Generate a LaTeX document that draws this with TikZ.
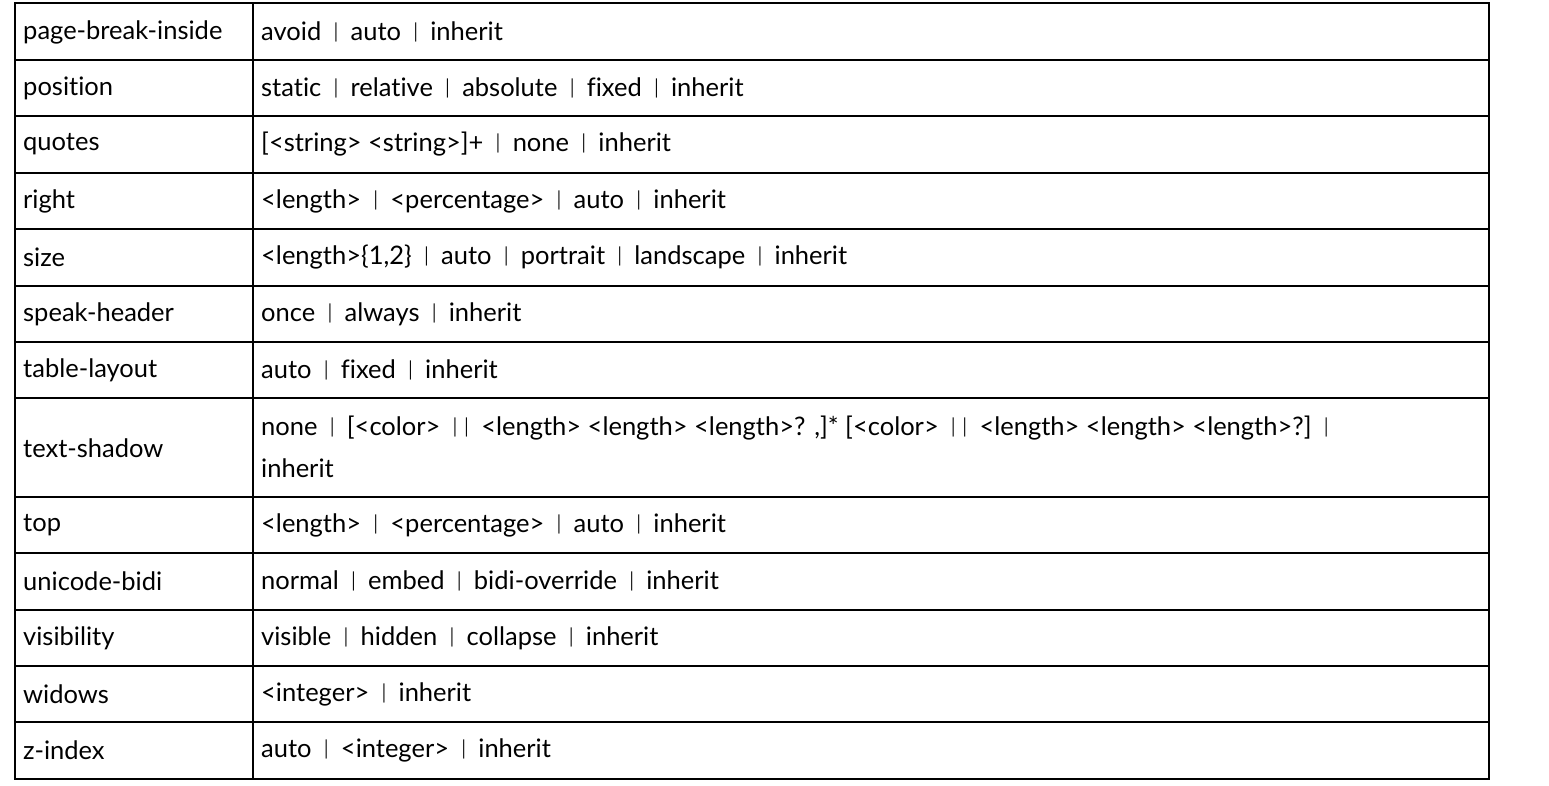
\documentclass[tikz,border=0pt]{standalone}
\usepackage{fontspec}
\setmainfont[Ligatures=NoCommon]{Lato}
\begin{document}
\begin{tikzpicture}[x=1pt,y=-1pt,
  cell/.style={anchor=west,inner sep=0pt,font=\fontsize{25.5}{30}\selectfont},
  grid/.style={line width=2.5pt}]
\useasboundingbox (0,0) rectangle (1549,786);
\def\bar{\enspace\raisebox{0.15ex}{\scalebox{0.6}[0.8]{\textbar}}\enspace}
\def\dbar{\enspace\raisebox{0.15ex}{\scalebox{0.6}[0.8]{\textbar}}\hspace{0.3em}\raisebox{0.15ex}{\scalebox{0.6}[0.8]{\textbar}}\enspace}
\foreach \y in {60,116,173,229,286,342,398,497,553,610,666,722}
  \draw[line width=2pt] (15,\y) -- (1489,\y);
\draw[grid] (15,3) rectangle (1489,779);
\draw[grid] (253,3) -- (253,779);
\foreach \n/\y/\a/\b in {
 r1/32/page-break-inside/{avoid\bar auto\bar inherit},
 r2/88/position/{static\bar relative\bar absolute\bar fixed\bar inherit},
 r3/144/quotes/{[<string> <string>]+\bar none\bar inherit},
 r4/201/right/{<length>\bar <percentage>\bar auto\bar inherit},
 r5/257/size/{<length>\{1,2\}\bar auto\bar portrait\bar landscape\bar inherit},
 r6/314/speak-header/{once\bar always\bar inherit},
 r7/370/table-layout/{auto\bar fixed\bar inherit},
 r9/525/top/{<length>\bar <percentage>\bar auto\bar inherit},
 r10/581/unicode-bidi/{normal\bar embed\bar bidi-override\bar inherit},
 r11/638/visibility/{visible\bar hidden\bar collapse\bar inherit},
 r12/694/widows/{<integer>\bar inherit},
 r13/750/z-index/{auto\bar <integer>\bar inherit}} {
  \node[cell] (\n a) at (23,\y) {\a};
  \node[cell] (\n b) at (261,\y) {\b};
}
\node[cell] (r8a) at (23,448) {text-shadow};
\node[cell] (r8b) at (261,428) {none\bar [<color>\dbar <length> <length> <length>? ,]* [<color>\dbar <length> <length> <length>?]\bar};
\node[cell] (r8c) at (261,468) {inherit};
\end{tikzpicture}
\end{document}
